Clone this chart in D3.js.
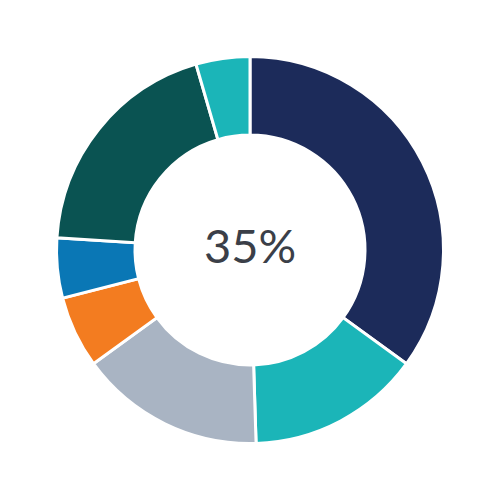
<!DOCTYPE html>
<html><head><meta charset="utf-8">
<script src="https://cdn.jsdelivr.net/npm/d3@7"></script>
<style>html,body{margin:0;padding:0;background:#fff;}</style>
</head><body>
<svg id="c" width="500" height="500"></svg>
<script>
const categories = ["A","B","C","D","E","F","G"];
const values = [35, 14.5, 15.5, 6, 5, 19.5, 4.5];
const colors = ["#1c2b5a","#1bb5b8","#a9b4c3","#f37c20","#0a77b5","#0a5352","#1bb5b8"];
const centerLabel = "35%";

const svg = d3.select("#c");
const g = svg.append("g").attr("transform","translate(250,250)");
const pie = d3.pie().sort(null).value(d => d.v);
const arc = d3.arc().innerRadius(115).outerRadius(193.5);
const data = categories.map((c,i)=>({c, v: values[i], col: colors[i]}));
g.selectAll("path").data(pie(data)).join("path")
  .attr("d", arc)
  .attr("fill", d => d.data.col)
  .attr("stroke", "#fff")
  .attr("stroke-width", 3)
  .attr("stroke-linejoin","miter");
g.append("text").text(centerLabel)
  .attr("text-anchor","middle")
  .attr("y", 13)
  .attr("font-family","Lato, 'Open Sans', sans-serif")
  .attr("font-size", 47)
  .attr("fill","#3b3f48");
</script>
</body></html>
